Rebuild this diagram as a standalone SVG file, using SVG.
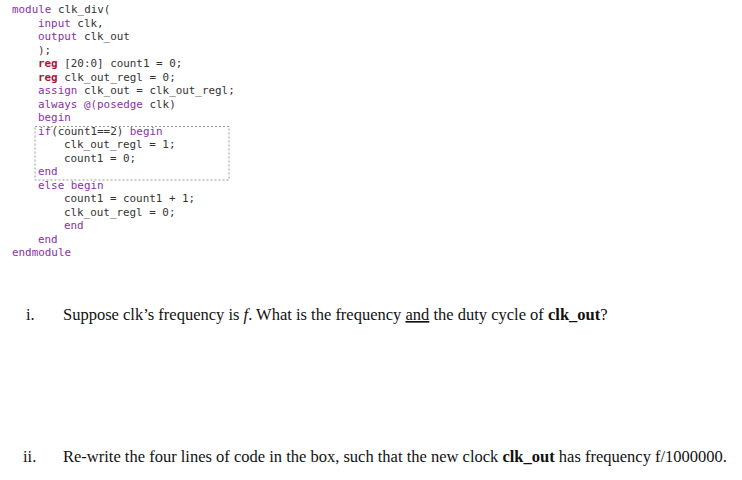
<svg xmlns="http://www.w3.org/2000/svg" width="742" height="480" viewBox="0 0 742 480">
<style>
.c{font-family:"DejaVu Sans Mono",monospace;font-size:10.9px;fill:#333;white-space:pre}
.k{fill:#8a2fa8}
.r{fill:#a5173d;font-weight:bold}
.q{font-family:"Liberation Serif",serif;font-size:16.5px;fill:#111}
.b{font-weight:bold}
</style>
<rect width="742" height="480" fill="#fff"/>
<g id="code">
<text class="c" x="12" y="13"><tspan class="k">module</tspan> clk_div(</text>
<text class="c" x="38" y="26.5"><tspan class="k">input</tspan> clk,</text>
<text class="c" x="38" y="40"><tspan class="k">output</tspan> clk_out</text>
<text class="c" x="38" y="53.5">);</text>
<text class="c" x="38" y="67"><tspan class="r">reg</tspan> [20:0] count1 = 0;</text>
<text class="c" x="38" y="80.5"><tspan class="r">reg</tspan> clk_out_regl = 0;</text>
<text class="c" x="38" y="94"><tspan class="k">assign</tspan> clk_out = clk_out_regl;</text>
<text class="c" x="38" y="107.5"><tspan class="k">always</tspan> <tspan class="k">@(posedge</tspan> clk)</text>
<text class="c k" x="38" y="121">begin</text>
<text class="c" x="38" y="134.5"><tspan class="k">if</tspan>(count1==2) <tspan class="k">begin</tspan></text>
<text class="c" x="64" y="148">clk_out_regl = 1;</text>
<text class="c" x="64" y="161.5">count1 = 0;</text>
<text class="c k" x="38" y="175">end</text>
<text class="c k" x="38" y="188.5">else begin</text>
<text class="c" x="64" y="202">count1 = count1 + 1;</text>
<text class="c" x="64" y="215.5">clk_out_regl = 0;</text>
<text class="c k" x="64" y="229">end</text>
<text class="c k" x="38" y="242.5">end</text>
<text class="c k" x="12" y="256">endmodule</text>
</g>
<g id="box"><rect x="35" y="126.5" width="194" height="53.5" fill="none" stroke="#999" stroke-width="1" stroke-dasharray="2,2"/></g>
<g id="q1">
<text class="q" x="26" y="320">i.</text>
<text class="q" x="63" y="320">Suppose clk’s frequency is <tspan font-style="italic">f</tspan>. What is the frequency <tspan text-decoration="underline">and</tspan> the duty cycle of <tspan class="b">clk_out</tspan>?</text>
</g>
<g id="q2">
<text class="q" x="23" y="462">ii.</text>
<text class="q" x="63" y="462">Re-write the four lines of code in the box, such that the new clock <tspan class="b">clk_out</tspan> has frequency f/1000000.</text>
</g>
</svg>
